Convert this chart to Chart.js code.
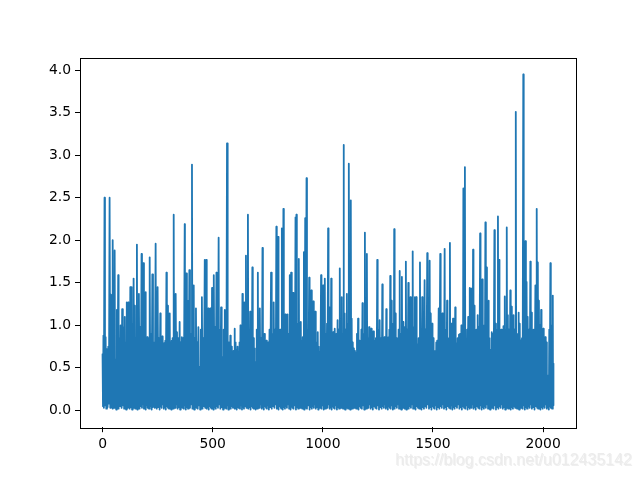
<!DOCTYPE html>
<html>
<head>
<meta charset="utf-8">
<script src="https://cdn.jsdelivr.net/npm/chart.js@4.4.1/dist/chart.umd.min.js"></script>
<style>
  html, body { margin: 0; padding: 0; background: #fff; }
  #wrap { width: 640px; height: 480px; }
</style>
</head>
<body>
<div id="wrap"><canvas id="signalChart" width="640" height="480"></canvas></div>
<script>
// Peak samples (sample index, value)
const peakIdx = [
  0, 4, 9, 14, 20, 26, 32, 38, 43, 47, 51, 55, 60, 65, 71, 76, 82, 86, 89, 95,
  101, 105, 109, 113, 117, 121, 126, 129, 132, 137, 141, 147, 151, 156, 160, 165, 171, 177, 181, 186,
  191, 195, 199, 203, 208, 214, 220, 226, 233, 241, 245, 250, 256, 262, 266, 271, 276, 280, 285, 290,
  295, 300, 305, 310, 314, 318, 323, 328, 332, 338, 344, 350, 355, 360, 366, 373, 376, 380, 386, 390,
  394, 400, 406, 410, 414, 419, 424, 430, 435, 441, 446, 451, 457, 464, 468, 471, 476, 480, 485, 490,
  494, 497, 501, 505, 511, 517, 522, 527, 532, 538, 545, 550, 555, 560, 565, 569, 574, 580, 585, 590,
  595, 599, 604, 608, 613, 617, 622, 626, 631, 635, 640, 644, 651, 655, 660, 665, 670, 675, 680, 685,
  689, 693, 697, 701, 705, 710, 714, 720, 726, 730, 735, 740, 744, 749, 753, 758, 765, 771, 777, 783,
  789, 793, 797, 802, 806, 810, 814, 817, 821, 826, 830, 835, 840, 845, 850, 853, 856, 860, 865, 870,
  876, 880, 885, 891, 896, 900, 905, 909, 914, 917, 920, 926, 931, 938, 943, 948, 952, 957, 962, 966,
  971, 977, 981, 985, 992, 997, 1001, 1005, 1009, 1014, 1019, 1024, 1029, 1033, 1038, 1043, 1047, 1051, 1055, 1061,
  1067, 1072, 1077, 1082, 1086, 1090, 1094, 1099, 1104, 1109, 1113, 1118, 1122, 1127, 1131, 1136, 1141, 1146, 1150, 1155,
  1160, 1165, 1170, 1175, 1180, 1185, 1191, 1196, 1200, 1205, 1210, 1215, 1220, 1225, 1230, 1235, 1241, 1247, 1252, 1258,
  1264, 1270, 1275, 1280, 1284, 1288, 1293, 1298, 1302, 1306, 1311, 1316, 1320, 1324, 1329, 1334, 1339, 1344, 1349, 1354,
  1359, 1364, 1369, 1373, 1377, 1382, 1388, 1393, 1398, 1403, 1408, 1413, 1418, 1424, 1429, 1435, 1441, 1446, 1451, 1456,
  1462, 1467, 1474, 1479, 1485, 1490, 1496, 1501, 1505, 1510, 1515, 1519, 1526, 1533, 1538, 1543, 1548, 1553, 1558, 1564,
  1569, 1577, 1582, 1586, 1591, 1596, 1601, 1606, 1612, 1618, 1623, 1629, 1634, 1638, 1645, 1650, 1655, 1660, 1664, 1668,
  1673, 1678, 1682, 1687, 1692, 1697, 1703, 1708, 1714, 1719, 1724, 1729, 1733, 1738, 1743, 1748, 1752, 1757, 1762, 1767,
  1772, 1779, 1784, 1789, 1795, 1800, 1805, 1810, 1815, 1820, 1826, 1831, 1835, 1840, 1845, 1851, 1856, 1861, 1866, 1871,
  1876, 1880, 1885, 1889, 1894, 1899, 1904, 1910, 1915, 1920, 1925, 1930, 1936, 1942, 1947, 1952, 1957, 1965, 1971, 1976,
  1981, 1986, 1991, 1996, 2001, 2005, 2010, 2015, 2019, 2024, 2028, 2033, 2038, 2044, 2047
];
const peakVal = [
  0.66, 0.88, 2.50, 0.86, 0.72, 0.75, 2.50, 1.36, 0.90, 2.00, 0.80, 1.88, 0.60, 1.18, 1.59, 0.85, 1.00, 0.55, 1.19, 0.98,
  1.10, 0.80, 1.27, 0.95, 1.27, 0.75, 1.45, 0.90, 1.45, 1.02, 1.55, 1.23, 0.85, 1.95, 0.80, 1.37, 0.98, 1.84, 1.05, 1.73,
  0.82, 1.39, 0.75, 0.86, 0.85, 1.80, 0.90, 1.60, 0.80, 1.96, 0.95, 1.45, 0.85, 1.14, 0.80, 0.87, 0.70, 0.79, 0.82, 1.62,
  1.23, 0.90, 1.14, 0.80, 0.82, 0.85, 2.30, 1.02, 1.37, 0.92, 0.85, 1.04, 0.80, 0.86, 0.85, 2.19, 1.02, 1.61, 1.29, 0.95,
  1.65, 0.90, 2.89, 1.05, 1.47, 0.85, 1.20, 0.80, 0.98, 0.51, 0.95, 1.33, 0.85, 1.77, 0.98, 1.77, 1.02, 1.20, 0.85, 1.20,
  0.95, 1.44, 0.90, 1.59, 0.98, 1.62, 0.85, 2.03, 0.95, 1.21, 0.63, 0.95, 1.18, 0.85, 3.14, 0.86, 0.80, 0.88, 0.75, 0.67,
  0.70, 0.96, 0.80, 0.71, 0.75, 0.69, 0.80, 1.00, 0.85, 1.37, 0.95, 1.27, 1.82, 0.90, 2.30, 0.85, 1.16, 0.95, 1.68, 0.85,
  0.73, 0.45, 0.57, 0.95, 1.62, 0.90, 1.20, 0.85, 1.91, 0.80, 0.90, 0.70, 0.82, 0.75, 0.80, 0.95, 1.62, 0.90, 1.27, 0.95,
  2.16, 0.85, 2.04, 0.80, 0.95, 0.82, 2.14, 1.02, 2.37, 0.85, 1.13, 0.95, 1.13, 0.90, 1.59, 0.95, 1.62, 0.85, 1.38, 0.98,
  2.27, 2.30, 1.02, 1.78, 0.85, 1.04, 0.82, 0.86, 1.86, 0.90, 2.26, 2.73, 0.95, 1.56, 0.85, 1.41, 0.90, 1.28, 0.85, 1.16,
  0.80, 0.92, 0.75, 0.69, 1.59, 0.95, 1.47, 0.85, 1.55, 0.90, 1.02, 2.14, 1.21, 1.08, 1.55, 0.85, 0.92, 0.80, 0.96, 0.90,
  1.06, 0.95, 1.67, 1.02, 1.33, 0.90, 3.12, 1.14, 0.95, 1.37, 1.02, 2.90, 1.00, 2.47, 1.08, 0.80, 0.73, 0.70, 0.68, 0.90,
  1.08, 0.82, 0.76, 0.95, 1.26, 0.90, 2.09, 1.02, 1.84, 0.85, 0.98, 0.80, 0.96, 0.85, 0.93, 0.82, 0.85, 1.77, 0.95, 1.06,
  0.85, 1.48, 0.82, 0.86, 0.85, 1.19, 0.80, 0.86, 0.95, 1.58, 1.29, 0.90, 1.02, 2.13, 1.14, 0.85, 0.74, 0.95, 1.64, 0.90,
  1.57, 1.04, 0.85, 0.98, 1.75, 0.95, 1.50, 0.90, 1.33, 0.95, 1.87, 0.98, 1.33, 1.33, 0.78, 0.85, 1.74, 0.95, 1.33, 0.90,
  1.53, 0.95, 1.85, 0.95, 1.76, 1.14, 1.02, 0.85, 0.70, 0.67, 0.80, 0.82, 1.20, 1.84, 0.90, 1.14, 0.85, 1.90, 0.95, 1.29,
  0.85, 1.97, 1.02, 0.85, 1.08, 0.90, 1.21, 0.79, 0.85, 0.89, 0.90, 1.00, 0.95, 2.61, 2.86, 0.63, 0.95, 1.10, 0.90, 1.44,
  1.43, 0.95, 1.89, 1.23, 0.94, 0.95, 1.12, 0.98, 2.08, 1.53, 1.54, 0.95, 1.00, 2.21, 1.68, 0.95, 1.29, 0.85, 0.71, 0.92,
  0.90, 2.12, 1.02, 0.95, 2.28, 1.77, 0.74, 0.95, 0.85, 0.99, 1.34, 0.95, 2.15, 1.12, 0.95, 1.41, 1.22, 0.90, 1.12, 0.95,
  3.51, 0.82, 0.90, 1.15, 1.02, 0.82, 0.85, 3.95, 1.02, 1.99, 1.51, 1.10, 0.95, 1.75, 1.15, 0.93, 0.95, 1.47, 2.37, 1.74,
  1.29, 1.00, 1.18, 0.95, 0.96, 0.85, 0.86, 0.80, 0.40, 0.41, 0.95, 1.73, 1.00, 1.35, 0.55
];

// Trough samples between the peaks (sample index, value)
const troughIdx = [
  2, 6, 11, 17, 23, 29, 35, 40, 45, 49, 53, 57, 62, 68, 73, 79, 84, 87, 92, 98,
  103, 107, 111, 115, 119, 123, 127, 130, 134, 139, 144, 149, 153, 158, 162, 168, 174, 179, 183, 188,
  193, 197, 201, 205, 211, 217, 223, 229, 237, 243, 247, 253, 259, 264, 268, 273, 278, 282, 287, 292,
  297, 302, 307, 312, 316, 320, 325, 330, 335, 341, 347, 352, 357, 363, 369, 374, 378, 383, 388, 392,
  397, 403, 408, 412, 416, 421, 427, 432, 438, 443, 448, 454, 460, 466, 469, 473, 478, 482, 487, 492,
  495, 499, 503, 508, 514, 519, 524, 529, 535, 541, 547, 552, 557, 562, 567, 571, 577, 582, 587, 592,
  597, 601, 606, 610, 615, 619, 624, 628, 633, 637, 642, 647, 653, 657, 662, 667, 672, 677, 682, 687,
  691, 695, 699, 703, 707, 712, 717, 723, 728, 732, 737, 742, 746, 751, 755, 761, 768, 774, 780, 786,
  791, 795, 799, 804, 808, 812, 815, 819, 823, 828, 832, 837, 842, 847, 851, 854, 858, 862, 867, 873,
  878, 882, 888, 893, 898, 902, 907, 911, 915, 918, 923, 928, 934, 940, 945, 950, 954, 959, 964, 968,
  974, 979, 983, 988, 994, 999, 1003, 1007, 1011, 1016, 1021, 1026, 1031, 1035, 1040, 1045, 1049, 1053, 1058, 1064,
  1069, 1074, 1079, 1084, 1088, 1092, 1096, 1101, 1106, 1111, 1115, 1120, 1124, 1129, 1133, 1138, 1143, 1148, 1152, 1157,
  1162, 1167, 1172, 1177, 1182, 1188, 1193, 1198, 1202, 1207, 1212, 1217, 1222, 1227, 1232, 1238, 1244, 1249, 1255, 1261,
  1267, 1272, 1277, 1282, 1286, 1290, 1295, 1300, 1304, 1308, 1313, 1318, 1322, 1326, 1331, 1336, 1341, 1346, 1351, 1356,
  1361, 1366, 1371, 1375, 1379, 1385, 1390, 1395, 1400, 1405, 1410, 1415, 1421, 1426, 1432, 1438, 1443, 1448, 1453, 1459,
  1464, 1470, 1476, 1482, 1487, 1493, 1498, 1503, 1507, 1512, 1517, 1522, 1529, 1535, 1540, 1545, 1550, 1555, 1561, 1566,
  1573, 1579, 1584, 1588, 1593, 1598, 1603, 1609, 1615, 1620, 1626, 1631, 1636, 1641, 1647, 1652, 1657, 1662, 1666, 1670,
  1675, 1680, 1684, 1689, 1694, 1700, 1705, 1711, 1716, 1721, 1726, 1731, 1735, 1740, 1745, 1750, 1754, 1759, 1764, 1769,
  1775, 1781, 1786, 1792, 1797, 1802, 1807, 1812, 1817, 1823, 1828, 1833, 1837, 1842, 1848, 1853, 1858, 1863, 1868, 1873,
  1878, 1882, 1887, 1891, 1896, 1901, 1907, 1912, 1917, 1922, 1927, 1933, 1939, 1944, 1949, 1954, 1961, 1968, 1973, 1978,
  1983, 1988, 1993, 1998, 2003, 2007, 2012, 2017, 2021, 2026, 2030, 2035, 2041, 2045
];
const troughVal = [
  0.05, 0.03, 0.06, 0.02, 0.04, 0.08, 0.03, 0.05, 0.02, 0.06, 0.03, 0.07, 0.01, 0.04, 0.02, 0.05, 0.15, 0.03, 0.06, 0.02,
  0.04, 0.01, 0.05, 0.03, 0.07, 0.02, 0.04, 0.06, 0.01, 0.05, 0.03, 0.02, 0.06, 0.01, 0.04, 0.02, 0.05, 0.03, 0.07, 0.02,
  0.04, 0.01, 0.06, 0.03, 0.02, 0.05, 0.01, 0.04, 0.03, 0.06, 0.02, 0.04, 0.01, 0.05, 0.03, 0.07, 0.02, 0.04, 0.01, 0.05,
  0.03, 0.02, 0.06, 0.01, 0.04, 0.02, 0.05, 0.03, 0.07, 0.02, 0.04, 0.01, 0.05, 0.03, 0.02, 0.06, 0.01, 0.04, 0.02, 0.05,
  0.03, 0.07, 0.02, 0.04, 0.01, 0.05, 0.03, 0.02, 0.06, 0.01, 0.04, 0.02, 0.05, 0.03, 0.07, 0.02, 0.04, 0.01, 0.05, 0.03,
  0.02, 0.06, 0.01, 0.04, 0.02, 0.05, 0.03, 0.07, 0.02, 0.04, 0.01, 0.05, 0.03, 0.02, 0.06, 0.01, 0.04, 0.02, 0.05, 0.03,
  0.07, 0.02, 0.04, 0.01, 0.05, 0.03, 0.02, 0.06, 0.01, 0.04, 0.02, 0.05, 0.03, 0.07, 0.02, 0.04, 0.01, 0.05, 0.03, 0.02,
  0.06, 0.01, 0.04, 0.02, 0.05, 0.03, 0.07, 0.02, 0.04, 0.01, 0.05, 0.03, 0.02, 0.06, 0.01, 0.04, 0.02, 0.05, 0.03, 0.07,
  0.02, 0.04, 0.01, 0.05, 0.03, 0.02, 0.06, 0.01, 0.04, 0.02, 0.05, 0.03, 0.07, 0.02, 0.04, 0.01, 0.05, 0.03, 0.02, 0.06,
  0.01, 0.04, 0.02, 0.05, 0.03, 0.07, 0.02, 0.04, 0.01, 0.05, 0.03, 0.02, 0.06, 0.01, 0.04, 0.02, 0.05, 0.03, 0.07, 0.02,
  0.04, 0.01, 0.05, 0.03, 0.02, 0.06, 0.01, 0.04, 0.02, 0.05, 0.03, 0.07, 0.02, 0.04, 0.01, 0.05, 0.03, 0.02, 0.06, 0.01,
  0.04, 0.02, 0.05, 0.03, 0.07, 0.02, 0.04, 0.01, 0.05, 0.03, 0.02, 0.06, 0.01, 0.04, 0.02, 0.05, 0.03, 0.07, 0.02, 0.04,
  0.01, 0.05, 0.03, 0.02, 0.06, 0.01, 0.04, 0.02, 0.05, 0.03, 0.07, 0.02, 0.04, 0.01, 0.05, 0.03, 0.02, 0.06, 0.01, 0.04,
  0.02, 0.05, 0.03, 0.07, 0.02, 0.04, 0.01, 0.05, 0.03, 0.02, 0.06, 0.01, 0.04, 0.02, 0.05, 0.03, 0.07, 0.02, 0.04, 0.01,
  0.05, 0.03, 0.02, 0.06, 0.01, 0.04, 0.02, 0.05, 0.03, 0.07, 0.02, 0.04, 0.01, 0.05, 0.03, 0.02, 0.06, 0.01, 0.04, 0.02,
  0.05, 0.03, 0.07, 0.02, 0.04, 0.01, 0.05, 0.03, 0.02, 0.06, 0.01, 0.04, 0.02, 0.05, 0.03, 0.07, 0.02, 0.04, 0.01, 0.05,
  0.03, 0.02, 0.06, 0.01, 0.04, 0.02, 0.05, 0.03, 0.07, 0.02, 0.04, 0.01, 0.05, 0.03, 0.02, 0.06, 0.01, 0.04, 0.02, 0.05,
  0.03, 0.07, 0.02, 0.04, 0.01, 0.05, 0.03, 0.02, 0.06, 0.01, 0.04, 0.02, 0.05, 0.03, 0.07, 0.02, 0.04, 0.01, 0.05, 0.03,
  0.02, 0.06, 0.01, 0.04, 0.02, 0.05, 0.03, 0.07, 0.02, 0.04, 0.01, 0.05, 0.03, 0.02, 0.06, 0.01, 0.04, 0.02, 0.05, 0.03,
  0.07, 0.02, 0.04, 0.01, 0.05, 0.03, 0.02, 0.06, 0.01, 0.04, 0.02, 0.05, 0.03, 0.07, 0.02, 0.04, 0.01, 0.05, 0.03, 0.02,
  0.06, 0.01, 0.04, 0.02, 0.05, 0.03, 0.07, 0.02, 0.04, 0.01, 0.05, 0.03, 0.02, 0.06
];

const xTicks = [0, 500, 1000, 1500, 2000];
const yTicks = [0.0, 0.5, 1.0, 1.5, 2.0, 2.5, 3.0, 3.5, 4.0];
const watermark = "https://blog.csdn.net/u012435142";

// merge peaks and troughs into one ordered series
const points = [];
peakIdx.forEach((x, i) => points.push({ x: x, y: peakVal[i] }));
troughIdx.forEach((x, i) => points.push({ x: x, y: troughVal[i] }));
points.sort((a, b) => a.x - b.x);

// matplotlib style frame + watermark
const framePlugin = {
  id: "frame",
  afterDraw(chart) {
    const { ctx, chartArea: a } = chart;
    ctx.save();
    ctx.strokeStyle = "#000";
    ctx.lineWidth = 1;
    ctx.strokeRect(Math.round(a.left) + 0.5, Math.round(a.top) + 0.5,
      Math.round(a.right - a.left), Math.round(a.bottom - a.top));
    ctx.font = "16px 'Liberation Sans', Arial, sans-serif";
    ctx.textAlign = "right";
    ctx.textBaseline = "middle";
    ctx.fillStyle = "rgba(120,120,120,0.12)";
    ctx.fillText(watermark, 633, 462);
    ctx.fillStyle = "rgba(235,235,235,0.95)";
    ctx.fillText(watermark, 632, 461);
    ctx.restore();
  },
};

const tickFont = { family: "'DejaVu Sans', sans-serif", size: 13.9 };

new Chart(document.getElementById("signalChart").getContext("2d"), {
  type: "line",
  data: {
    datasets: [
      {
        data: points,
        borderColor: "#1f77b4",
        borderWidth: 1.8,
        borderJoinStyle: "round",
        borderCapStyle: "round",
        pointRadius: 0,
        tension: 0,
        fill: false,
      },
    ],
  },
  options: {
    responsive: false,
    animation: false,
    parsing: false,
    layout: { padding: { top: 57.6, right: 64, left: 0, bottom: 0 } },
    plugins: { legend: { display: false }, tooltip: { enabled: false } },
    scales: {
      x: {
        type: "linear",
        min: -102.35,
        max: 2149.35,
        afterBuildTicks: (axis) => { axis.ticks = xTicks.map((v) => ({ value: v })); },
        afterFit: (scale) => { scale.height = 52.8; },
        border: { display: false },
        grid: { drawOnChartArea: false, drawTicks: true, tickLength: 5, color: "#000" },
        ticks: { color: "#000", font: tickFont, padding: 4, maxRotation: 0, callback: (v) => String(v) },
      },
      y: {
        type: "linear",
        min: -0.1976,
        max: 4.1476,
        afterBuildTicks: (axis) => { axis.ticks = yTicks.map((v) => ({ value: v })); },
        afterFit: (scale) => { scale.width = 80; },
        border: { display: false },
        grid: { drawOnChartArea: false, drawTicks: true, tickLength: 5, color: "#000" },
        ticks: { color: "#000", font: tickFont, padding: 4, callback: (v) => v.toFixed(1) },
      },
    },
  },
  plugins: [framePlugin],
});
</script>
</body>
</html>
